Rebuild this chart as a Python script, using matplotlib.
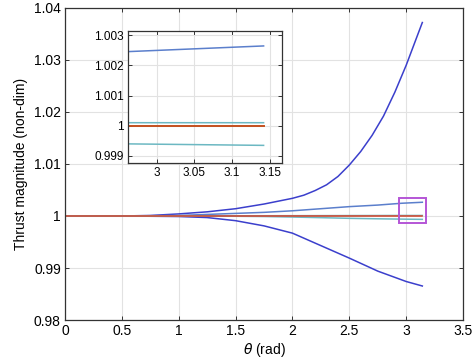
import matplotlib
matplotlib.use("Agg")
import matplotlib.pyplot as plt
from matplotlib.ticker import FuncFormatter
from matplotlib.patches import Rectangle

plt.rcParams['font.family'] = ['Liberation Sans', 'DejaVu Sans']

# ---- data ----
theta_hi = [0.0, 0.5, 0.75, 1.0, 1.25, 1.5, 1.75, 2.0, 2.1, 2.2, 2.3, 2.4, 2.5,
            2.6, 2.7, 2.8, 2.9, 3.0, 3.1, 3.1416]
upper_big = [1.0, 1.0, 1.0001, 1.0004, 1.0008, 1.0014, 1.0023, 1.0034, 1.0040,
             1.0049, 1.0060, 1.0076, 1.0098, 1.0124, 1.0155, 1.0192, 1.0238,
             1.0290, 1.0348, 1.0372]

theta_lo = [0.0, 0.5, 0.75, 1.0, 1.25, 1.5, 1.75, 2.0, 2.25, 2.5, 2.75, 3.0, 3.1416]
lower_big = [1.0, 1.0, 0.99995, 0.9999, 0.9997, 0.9991, 0.9981, 0.9967, 0.9943,
             0.9919, 0.9894, 0.9874, 0.98654]

theta_mid = [0.0, 0.5, 1.0, 1.5, 1.75, 2.0, 2.25, 2.5, 2.75, 2.96, 3.1416]
upper_mid = [1.0, 1.0, 1.0001, 1.0005, 1.0007, 1.0010, 1.0014, 1.0018, 1.0021,
             1.00245, 1.00264]
teal_up = [1.0, 1.0, 1.00002, 1.00004, 1.00005, 1.00006, 1.00007, 1.00008,
           1.00009, 1.0001, 1.0001]
teal_lo = [1.0, 1.0, 0.99999, 0.99995, 0.99990, 0.99980, 0.99968, 0.99955,
           0.99946, 0.99940, 0.99935]

theta_ref = [0.0, 3.1416]
ref = [1.0, 1.0]

main_xticks = [0, 0.5, 1, 1.5, 2, 2.5, 3, 3.5]
main_yticks = [0.98, 0.99, 1.0, 1.01, 1.02, 1.03, 1.04]
inset_xticks = [3.0, 3.05, 3.1, 3.15]
inset_yticks = [0.999, 1.0, 1.001, 1.002, 1.003]

c_big = '#3b3fcc'
c_mid = '#5b7fcc'
c_teal = '#6cb8c2'
c_red = '#d8452c'
c_red_in = '#c4501e'
c_box = '#b455d6'

fmt = FuncFormatter(lambda v, p: '%g' % round(v, 6))

fig = plt.figure(figsize=(4.74, 3.62), dpi=100)
ax = fig.add_axes([0.137, 0.116, 0.840, 0.862])

def style(a, fs):
    a.grid(True, color='#e2e2e2', linewidth=0.8)
    a.set_axisbelow(True)
    a.tick_params(direction='in', top=True, right=True, labelsize=fs,
                  length=3, width=0.7, color='#333333', pad=3)
    for s in a.spines.values():
        s.set_color('#333333')
        s.set_linewidth(0.9)
    a.xaxis.set_major_formatter(fmt)
    a.yaxis.set_major_formatter(fmt)

lw = 1.1
ax.plot(theta_hi, upper_big, color=c_big, lw=lw)
ax.plot(theta_lo, lower_big, color=c_big, lw=lw)
ax.plot(theta_mid, upper_mid, color=c_mid, lw=lw)
ax.plot(theta_mid, teal_up, color=c_teal, lw=lw)
ax.plot(theta_mid, teal_lo, color=c_teal, lw=lw)
ax.plot(theta_ref, ref, color=c_red, lw=lw)

ax.add_patch(Rectangle((2.94, 0.9986), 0.23, 0.0049, fill=False,
                       edgecolor=c_box, lw=1.4, zorder=5))

ax.set_xlim(0, 3.5)
ax.set_ylim(0.98, 1.04)
ax.set_xticks(main_xticks)
ax.set_yticks(main_yticks)
style(ax, 10)
ax.set_xlabel(r'$\theta$ (rad)', fontsize=10, labelpad=2)
ax.set_ylabel('Thrust magnitude (non-dim)', fontsize=10, labelpad=4)

# ---- inset ----
ins = fig.add_axes([0.270, 0.550, 0.325, 0.364])
ins.plot(theta_mid, upper_mid, color=c_mid, lw=lw)
ins.plot(theta_mid, teal_up, color=c_teal, lw=lw)
ins.plot(theta_mid, teal_lo, color=c_teal, lw=lw)
ins.plot(theta_ref, ref, color=c_red_in, lw=1.4)
ins.set_xlim(2.962, 3.166)
ins.set_ylim(0.99877, 1.00313)
ins.set_xticks(inset_xticks)
ins.set_yticks(inset_yticks)
style(ins, 8.5)

fig.savefig('out.png', dpi=100)
